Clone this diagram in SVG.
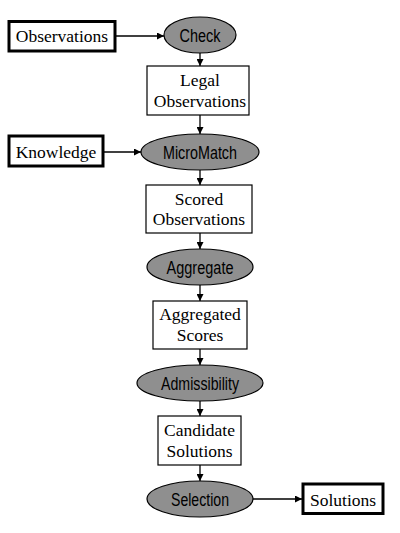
<svg xmlns="http://www.w3.org/2000/svg" width="400" height="533" viewBox="0 0 400 533">
<defs>
<marker id="arr" viewBox="0 0 10 10" refX="10" refY="5" markerWidth="8" markerHeight="7" markerUnits="userSpaceOnUse" orient="auto">
<path d="M0,0 L10,5 L0,10 z" fill="#000"/>
</marker>
<style>
.io{fill:#fff;stroke:#000;stroke-width:3}
.data{fill:#fff;stroke:#000;stroke-width:1.2}
.proc{fill:#8f8f8f;stroke:#000;stroke-width:1.2}
.st{font-family:"Liberation Serif","Times New Roman",serif;font-size:17.5px;fill:#000;text-anchor:middle}
.pt{font-family:"Liberation Sans Narrow","Liberation Sans",Arial,sans-serif;font-size:17.5px;fill:#000;text-anchor:middle}
.conn line{stroke:#000;stroke-width:1.3;marker-end:url(#arr)}
</style>
</defs>
<rect width="400" height="533" fill="#fff"/>
<g class="conn" id="connectors">
<line x1="115" y1="36" x2="164" y2="36"/>
<line x1="200" y1="53" x2="200" y2="66"/>
<line x1="200" y1="115" x2="200" y2="134"/>
<line x1="103" y1="152" x2="141" y2="152"/>
<line x1="200" y1="170" x2="200" y2="185"/>
<line x1="200" y1="233" x2="200" y2="249"/>
<line x1="200" y1="285" x2="200" y2="301"/>
<line x1="200" y1="349" x2="200" y2="365"/>
<line x1="200" y1="401" x2="200" y2="416"/>
<line x1="200" y1="465" x2="200" y2="481"/>
<line x1="253" y1="499" x2="302" y2="499"/>
</g>
<g id="observations"><rect class="io" x="9" y="21.5" width="106" height="29.5"/><text class="st" x="62" y="42">Observations</text></g>
<g id="check"><ellipse class="proc" cx="200" cy="35" rx="36" ry="18"/><text class="pt" x="200" y="41.5" textLength="41" lengthAdjust="spacingAndGlyphs">Check</text></g>
<g id="legal"><rect class="data" x="147" y="66" width="102" height="49"/><text class="st" x="200" y="86">Legal</text><text class="st" x="200" y="107">Observations</text></g>
<g id="knowledge"><rect class="io" x="9" y="136" width="94" height="30"/><text class="st" x="56" y="157.5">Knowledge</text></g>
<g id="micromatch"><ellipse class="proc" cx="200" cy="152" rx="59" ry="18"/><text class="pt" x="200" y="158.5" textLength="74" lengthAdjust="spacingAndGlyphs">MicroMatch</text></g>
<g id="scored"><rect class="data" x="146" y="185" width="106" height="48"/><text class="st" x="199" y="205">Scored</text><text class="st" x="199" y="225">Observations</text></g>
<g id="aggregate"><ellipse class="proc" cx="200" cy="267" rx="53" ry="18"/><text class="pt" x="200" y="273.5" textLength="67" lengthAdjust="spacingAndGlyphs">Aggregate</text></g>
<g id="aggscores"><rect class="data" x="153" y="301" width="94" height="48"/><text class="st" x="200" y="320">Aggregated</text><text class="st" x="200" y="341">Scores</text></g>
<g id="admissibility"><ellipse class="proc" cx="200" cy="383" rx="63" ry="18"/><text class="pt" x="200" y="389.5" textLength="78" lengthAdjust="spacingAndGlyphs">Admissibility</text></g>
<g id="candidate"><rect class="data" x="158" y="416" width="83" height="49"/><text class="st" x="199.5" y="436">Candidate</text><text class="st" x="199.5" y="457">Solutions</text></g>
<g id="selection"><ellipse class="proc" cx="200" cy="499" rx="53" ry="18"/><text class="pt" x="200" y="505.5" textLength="58" lengthAdjust="spacingAndGlyphs">Selection</text></g>
<g id="solutions"><rect class="io" x="303" y="484" width="80" height="29.5"/><text class="st" x="343" y="505.5">Solutions</text></g>
</svg>
